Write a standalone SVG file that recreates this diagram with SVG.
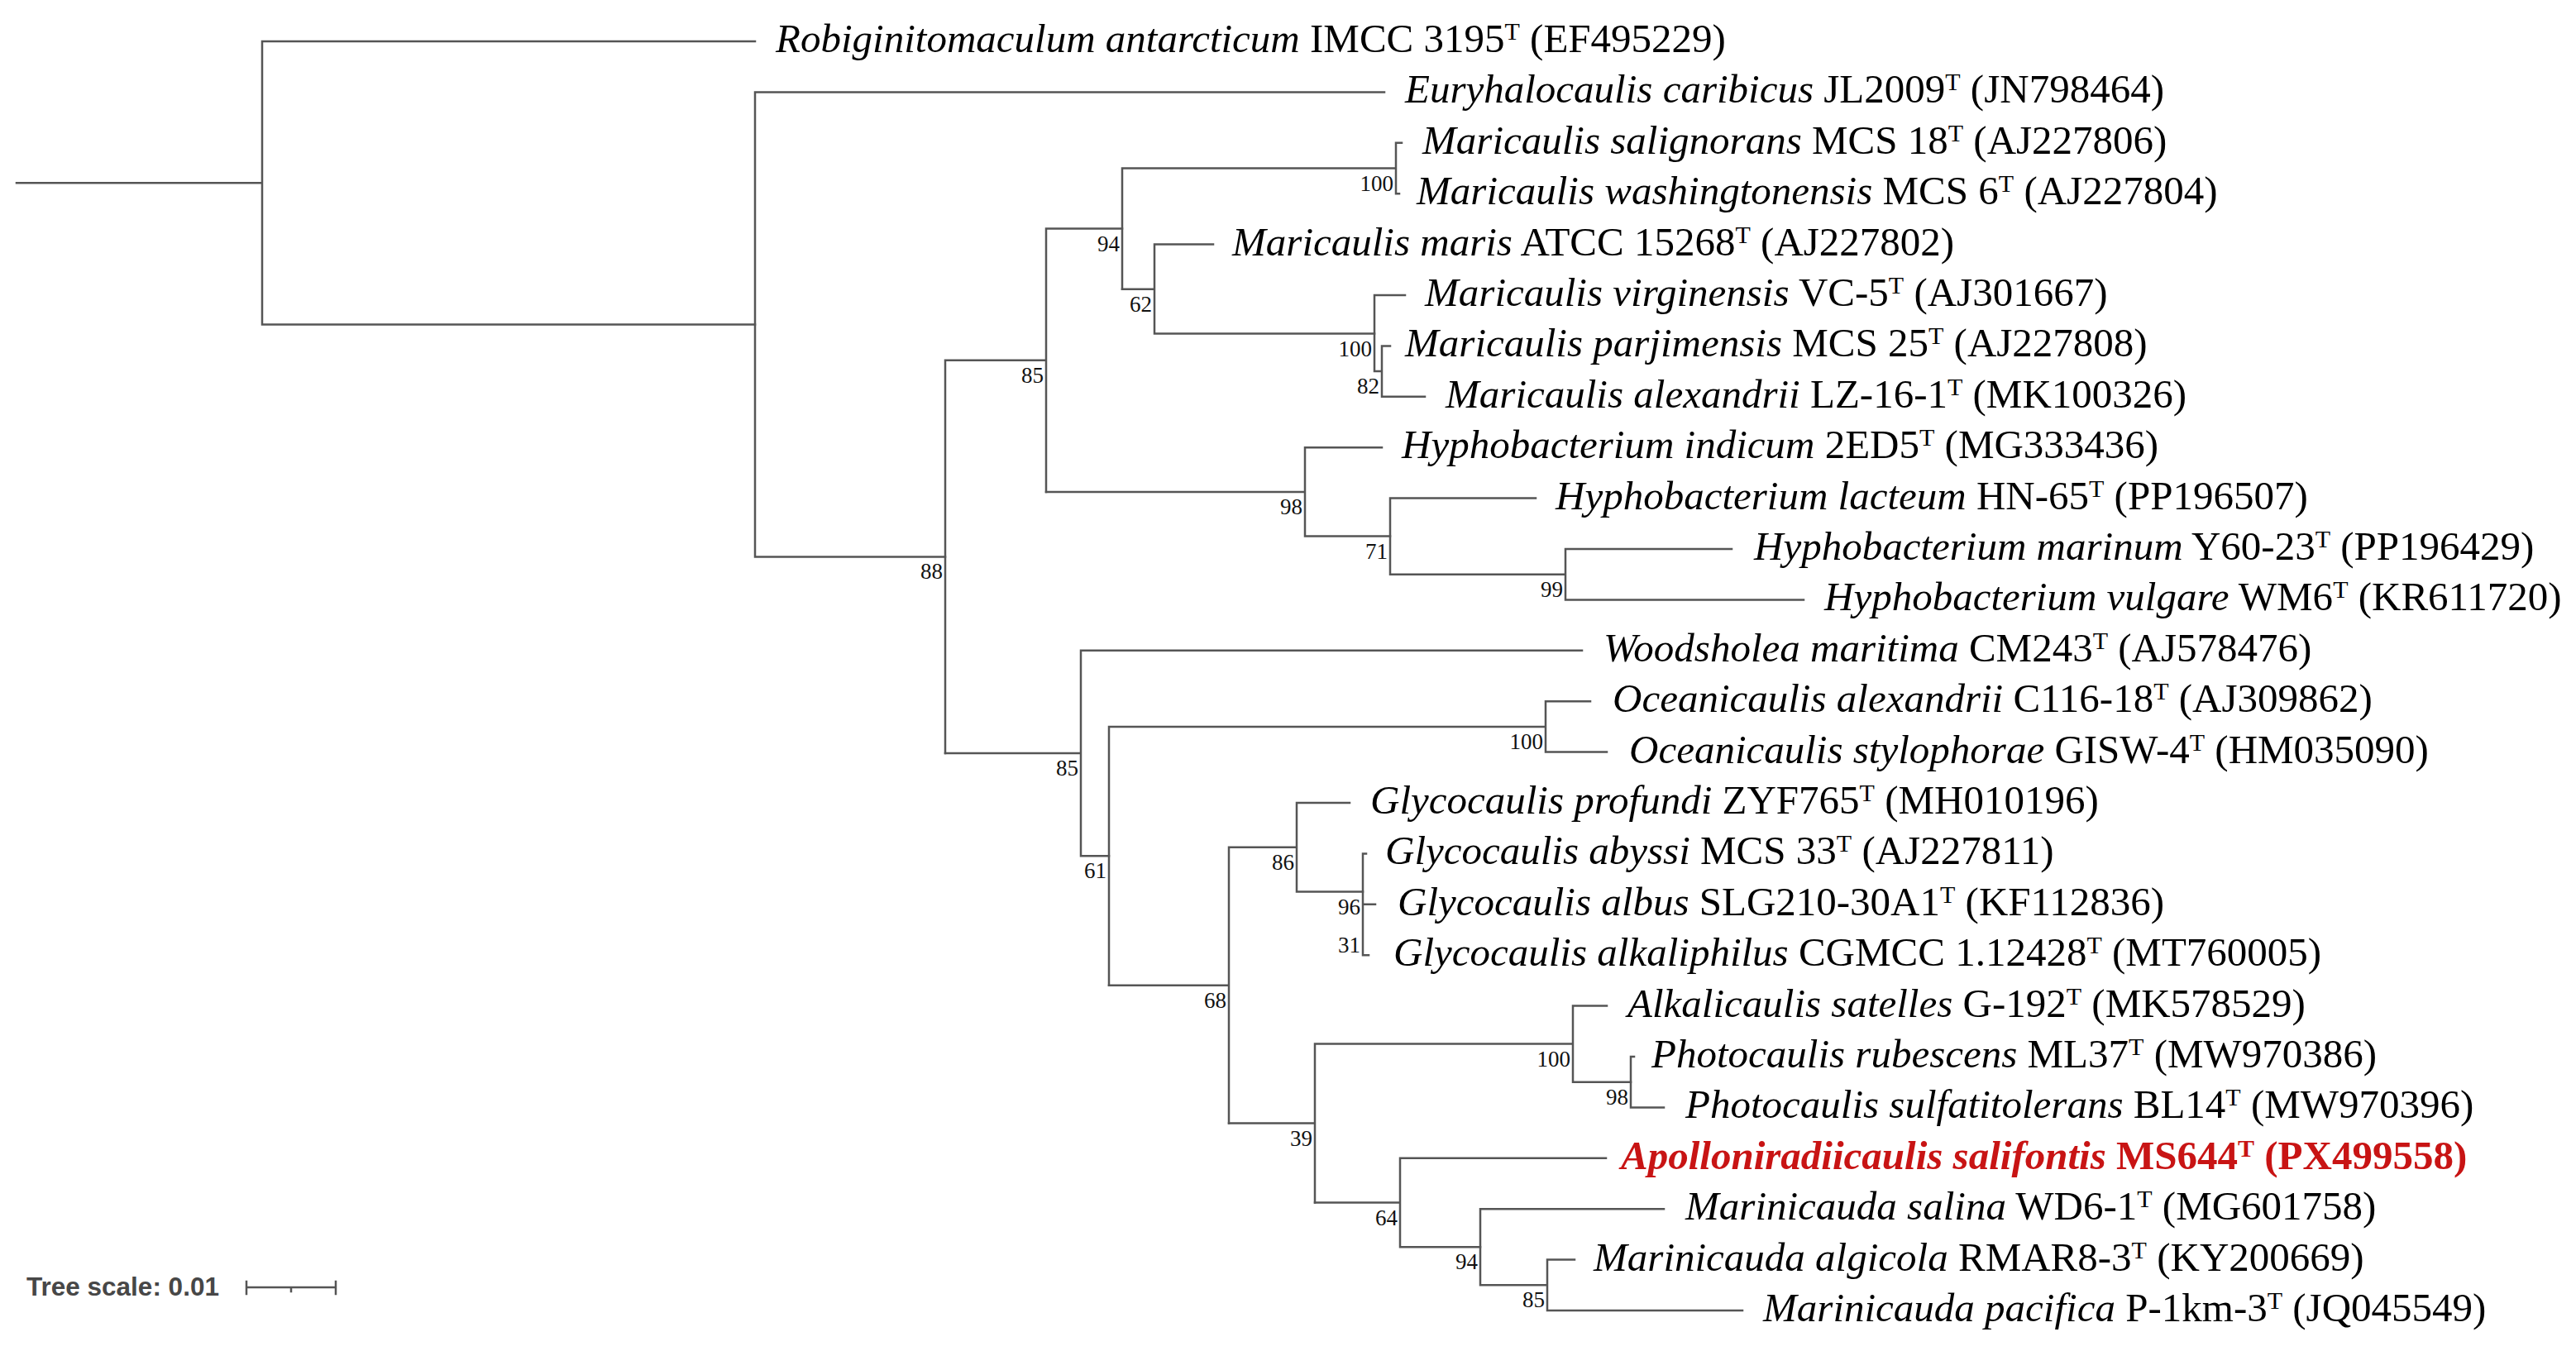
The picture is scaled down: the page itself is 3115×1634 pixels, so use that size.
<svg xmlns="http://www.w3.org/2000/svg" width="3115" height="1634" viewBox="0 0 3115 1634">
<style>
.lbl{font-family:"Liberation Serif","Times New Roman",serif;font-size:49px;fill:#000}
.sp{font-style:italic}
.sup{font-size:30px}
.red{fill:#c81414;font-weight:bold}
.bs{font-family:"Liberation Serif","Times New Roman",serif;font-size:27px;fill:#111;text-anchor:end}
.edge{stroke:#555;stroke-width:2.5;fill:none;stroke-linecap:square}
.scale{font-family:"Liberation Sans",Arial,sans-serif;font-weight:bold;font-size:31.5px;fill:#474747}
</style>
<rect width="3115" height="1634" fill="#fff"/>
<g id="connectors" class="edge">
<path d="M20,221.2H317M317,50V392.4M317,50H913M317,392.4H913"/>
<path d="M913,111.4V673.4M913,111.4H1674M913,673.4H1143"/>
<path d="M1143,435.8V911M1143,435.8H1265M1265,276.6V594.9M1265,276.6H1357"/>
<path d="M1357,203.5V349.8M1357,203.5H1688M1688,172.8V234.2M1688,172.8H1695M1688,234.2H1692"/>
<path d="M1357,349.8H1396M1396,295.6V403.6M1396,295.6H1467M1396,403.6H1662"/>
<path d="M1662,357V449.1M1662,357H1699M1662,449.1H1671M1671,418.4V479.8M1671,418.4H1681M1671,479.8H1723"/>
<path d="M1265,594.9H1578M1578,541.2V648.6M1578,541.2H1671M1578,648.6H1681"/>
<path d="M1681,602.6V694.7M1681,602.6H1857M1681,694.7H1893M1893,664V725.4M1893,664H2094M1893,725.4H2181"/>
<path d="M1143,911H1307M1307,786.8V1035.3M1307,786.8H1913M1307,1035.3H1341"/>
<path d="M1341,878.9V1191.7M1341,878.9H1869M1869,848.2V909.6M1869,848.2H1923M1869,909.6H1943"/>
<path d="M1341,1191.7H1486M1486,1024.7V1358.6M1486,1024.7H1568M1568,971V1078.5M1568,971H1632M1568,1078.5H1648"/>
<path d="M1648,1032.4V1155.2M1648,1032.4H1652M1648,1093.8H1663M1648,1155.2H1655"/>
<path d="M1486,1358.6H1590M1590,1262.6V1454.5M1590,1262.6H1902M1902,1216.6V1308.7M1902,1216.6H1943M1902,1308.7H1972"/>
<path d="M1972,1278V1339.4M1972,1278H1976M1972,1339.4H2012"/>
<path d="M1590,1454.5H1693M1693,1400.8V1508.2M1693,1400.8H1942M1693,1508.2H1790"/>
<path d="M1790,1462.2V1554.3M1790,1462.2H2012M1790,1554.3H1871M1871,1523.6V1585M1871,1523.6H1904M1871,1585H2107"/>
</g>
<g id="leaves" class="lbl">
<g id="leaf-robiginitomaculum"><text x="938" y="63"><tspan class="sp">Robiginitomaculum antarcticum</tspan> IMCC 3195<tspan class="sup" dy="-15">T</tspan><tspan dy="15"> (EF495229)</tspan></text></g>
<g id="leaf-euryhalocaulis"><text x="1699" y="124.4"><tspan class="sp">Euryhalocaulis caribicus</tspan> JL2009<tspan class="sup" dy="-15">T</tspan><tspan dy="15"> (JN798464)</tspan></text></g>
<g id="leaf-m-salignorans"><text x="1720" y="185.8"><tspan class="sp">Maricaulis salignorans</tspan> MCS 18<tspan class="sup" dy="-15">T</tspan><tspan dy="15"> (AJ227806)</tspan></text></g>
<g id="leaf-m-washingtonensis"><text x="1713" y="247.2"><tspan class="sp">Maricaulis washingtonensis</tspan> MCS 6<tspan class="sup" dy="-15">T</tspan><tspan dy="15"> (AJ227804)</tspan></text></g>
<g id="leaf-m-maris"><text x="1490" y="308.6"><tspan class="sp">Maricaulis maris</tspan> ATCC 15268<tspan class="sup" dy="-15">T</tspan><tspan dy="15"> (AJ227802)</tspan></text></g>
<g id="leaf-m-virginensis"><text x="1723" y="370"><tspan class="sp">Maricaulis virginensis</tspan> VC-5<tspan class="sup" dy="-15">T</tspan><tspan dy="15"> (AJ301667)</tspan></text></g>
<g id="leaf-m-parjimensis"><text x="1699" y="431.4"><tspan class="sp">Maricaulis parjimensis</tspan> MCS 25<tspan class="sup" dy="-15">T</tspan><tspan dy="15"> (AJ227808)</tspan></text></g>
<g id="leaf-m-alexandrii"><text x="1748" y="492.8"><tspan class="sp">Maricaulis alexandrii</tspan> LZ-16-1<tspan class="sup" dy="-15">T</tspan><tspan dy="15"> (MK100326)</tspan></text></g>
<g id="leaf-h-indicum"><text x="1695" y="554.2"><tspan class="sp">Hyphobacterium indicum</tspan> 2ED5<tspan class="sup" dy="-15">T</tspan><tspan dy="15"> (MG333436)</tspan></text></g>
<g id="leaf-h-lacteum"><text x="1881" y="615.6"><tspan class="sp">Hyphobacterium lacteum</tspan> HN-65<tspan class="sup" dy="-15">T</tspan><tspan dy="15"> (PP196507)</tspan></text></g>
<g id="leaf-h-marinum"><text x="2121" y="677"><tspan class="sp">Hyphobacterium marinum</tspan> Y60-23<tspan class="sup" dy="-15">T</tspan><tspan dy="15"> (PP196429)</tspan></text></g>
<g id="leaf-h-vulgare"><text x="2206" y="738.4"><tspan class="sp">Hyphobacterium vulgare</tspan> WM6<tspan class="sup" dy="-15">T</tspan><tspan dy="15"> (KR611720)</tspan></text></g>
<g id="leaf-woodsholea"><text x="1939" y="799.8"><tspan class="sp">Woodsholea maritima</tspan> CM243<tspan class="sup" dy="-15">T</tspan><tspan dy="15"> (AJ578476)</tspan></text></g>
<g id="leaf-o-alexandrii"><text x="1950" y="861.2"><tspan class="sp">Oceanicaulis alexandrii</tspan> C116-18<tspan class="sup" dy="-15">T</tspan><tspan dy="15"> (AJ309862)</tspan></text></g>
<g id="leaf-o-stylophorae"><text x="1970" y="922.6"><tspan class="sp">Oceanicaulis stylophorae</tspan> GISW-4<tspan class="sup" dy="-15">T</tspan><tspan dy="15"> (HM035090)</tspan></text></g>
<g id="leaf-g-profundi"><text x="1657" y="984"><tspan class="sp">Glycocaulis profundi</tspan> ZYF765<tspan class="sup" dy="-15">T</tspan><tspan dy="15"> (MH010196)</tspan></text></g>
<g id="leaf-g-abyssi"><text x="1675" y="1045.4"><tspan class="sp">Glycocaulis abyssi</tspan> MCS 33<tspan class="sup" dy="-15">T</tspan><tspan dy="15"> (AJ227811)</tspan></text></g>
<g id="leaf-g-albus"><text x="1690" y="1106.8"><tspan class="sp">Glycocaulis albus</tspan> SLG210-30A1<tspan class="sup" dy="-15">T</tspan><tspan dy="15"> (KF112836)</tspan></text></g>
<g id="leaf-g-alkaliphilus"><text x="1685" y="1168.2"><tspan class="sp">Glycocaulis alkaliphilus</tspan> CGMCC 1.12428<tspan class="sup" dy="-15">T</tspan><tspan dy="15"> (MT760005)</tspan></text></g>
<g id="leaf-alkalicaulis"><text x="1968" y="1229.6"><tspan class="sp">Alkalicaulis satelles</tspan> G-192<tspan class="sup" dy="-15">T</tspan><tspan dy="15"> (MK578529)</tspan></text></g>
<g id="leaf-p-rubescens"><text x="1997" y="1291"><tspan class="sp">Photocaulis rubescens</tspan> ML37<tspan class="sup" dy="-15">T</tspan><tspan dy="15"> (MW970386)</tspan></text></g>
<g id="leaf-p-sulfatitolerans"><text x="2038" y="1352.4"><tspan class="sp">Photocaulis sulfatitolerans</tspan> BL14<tspan class="sup" dy="-15">T</tspan><tspan dy="15"> (MW970396)</tspan></text></g>
<g id="leaf-apolloniradiicaulis"><text class="red" x="1960" y="1413.8"><tspan class="sp">Apolloniradiicaulis salifontis</tspan> MS644<tspan class="sup" dy="-15">T</tspan><tspan dy="15"> (PX499558)</tspan></text></g>
<g id="leaf-mc-salina"><text x="2038" y="1475.2"><tspan class="sp">Marinicauda salina</tspan> WD6-1<tspan class="sup" dy="-15">T</tspan><tspan dy="15"> (MG601758)</tspan></text></g>
<g id="leaf-mc-algicola"><text x="1927" y="1536.6"><tspan class="sp">Marinicauda algicola</tspan> RMAR8-3<tspan class="sup" dy="-15">T</tspan><tspan dy="15"> (KY200669)</tspan></text></g>
<g id="leaf-mc-pacifica"><text x="2132" y="1598"><tspan class="sp">Marinicauda pacifica</tspan> P-1km-3<tspan class="sup" dy="-15">T</tspan><tspan dy="15"> (JQ045549)</tspan></text></g>
</g>
<g id="internal-nodes" class="bs">
<g id="n100a"><text x="1685" y="230.5">100</text></g>
<g id="n94a"><text x="1354" y="303.6">94</text></g>
<g id="n62"><text x="1393" y="376.8">62</text></g>
<g id="n100b"><text x="1659" y="430.6">100</text></g>
<g id="n82"><text x="1668" y="476.1">82</text></g>
<g id="n85a"><text x="1262" y="462.8">85</text></g>
<g id="n98a"><text x="1575" y="621.9">98</text></g>
<g id="n71"><text x="1678" y="675.6">71</text></g>
<g id="n99"><text x="1890" y="721.7">99</text></g>
<g id="n88"><text x="1140" y="700.4">88</text></g>
<g id="n85b"><text x="1304" y="938">85</text></g>
<g id="n100c"><text x="1866" y="905.9">100</text></g>
<g id="n61"><text x="1338" y="1062.3">61</text></g>
<g id="n68"><text x="1483" y="1218.7">68</text></g>
<g id="n86"><text x="1565" y="1051.7">86</text></g>
<g id="n96"><text x="1645" y="1105.5">96</text></g>
<g id="n31"><text x="1645" y="1151.5">31</text></g>
<g id="n39"><text x="1587" y="1385.6">39</text></g>
<g id="n100d"><text x="1899" y="1289.6">100</text></g>
<g id="n98b"><text x="1969" y="1335.7">98</text></g>
<g id="n64"><text x="1690" y="1481.5">64</text></g>
<g id="n94b"><text x="1787" y="1535.2">94</text></g>
<g id="n85c"><text x="1868" y="1581.3">85</text></g>
</g>
<g id="scale-bar">
<text class="scale" x="32" y="1567">Tree scale: 0.01</text>
<path class="edge" d="M298,1557H406M298,1550V1565M406,1550V1565M352,1557V1562"/>
</g>
</svg>
